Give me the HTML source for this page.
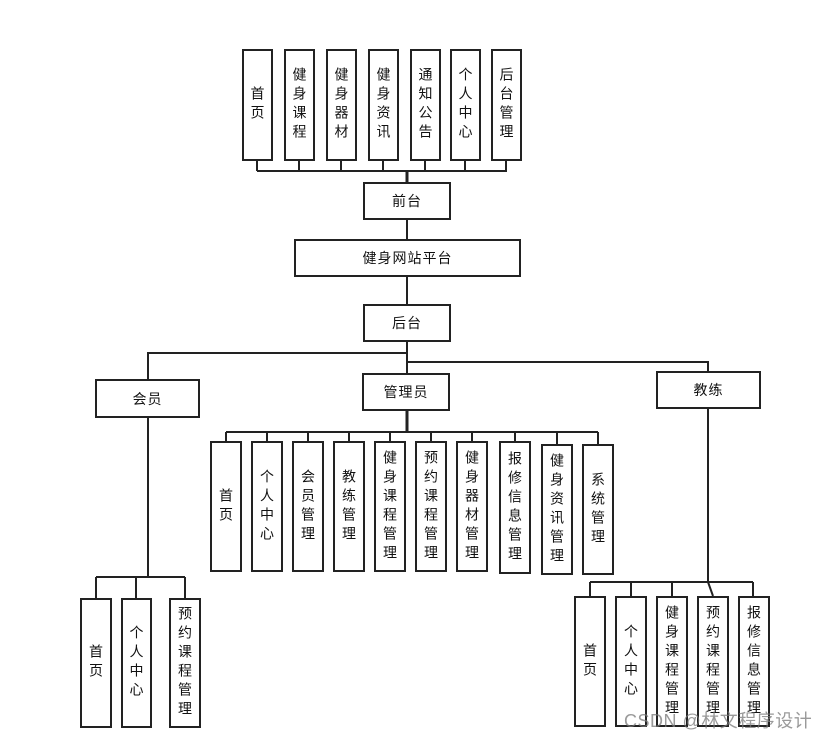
<!DOCTYPE html>
<html><head><meta charset="utf-8"><style>
body{margin:0;width:831px;height:738px;background:#fff;position:relative;overflow:hidden;font-family:"Liberation Sans","Noto Sans CJK SC",sans-serif;}
.b{position:absolute;box-sizing:border-box;border:2px solid #222;background:#fff;display:flex;align-items:center;justify-content:center;font-size:14px;color:#111;}
.v{writing-mode:vertical-rl;text-orientation:upright;letter-spacing:5px;line-height:1;}
.h{letter-spacing:1px;}
svg{position:absolute;left:0;top:0;}
.wm{position:absolute;left:624px;top:707px;font-size:18px;letter-spacing:0.5px;color:rgba(120,120,120,0.75);white-space:nowrap;}
</style></head><body>
<svg width="831" height="738"><g stroke="#222" stroke-width="2" fill="none">
<path d="M257 161V171M299 161V171M341 161V171M383 161V171M425 161V171M465 161V171M506 161V171M257 171H507"/>
<path d="M407 171V182" stroke-width="3"/>
<path d="M407 220V239M407 277V304M407 342V373M407 353H148V379M407 362H708V371"/>
<path d="M407 411V432" stroke-width="3"/>
<path d="M226 432H598M226 432V441M267 432V441M308 432V441M349 432V441M390 432V441M431 432V441M472 432V441M515 432V441M557 432V444M598 432V444"/>
<path d="M148 418V577M96 577H185M96 577V598M136 577V598M185 577V598"/>
<path d="M708 409V582M590 582H753M590 582V596M631 582V596M672 582V596M708 582L713 596M753 582V596"/>
</g></svg>
<div class="b v" style="left:242px;top:49px;width:31px;height:112px">首页</div>
<div class="b v" style="left:284px;top:49px;width:31px;height:112px">健身课程</div>
<div class="b v" style="left:326px;top:49px;width:31px;height:112px">健身器材</div>
<div class="b v" style="left:368px;top:49px;width:31px;height:112px">健身资讯</div>
<div class="b v" style="left:410px;top:49px;width:31px;height:112px">通知公告</div>
<div class="b v" style="left:450px;top:49px;width:31px;height:112px">个人中心</div>
<div class="b v" style="left:491px;top:49px;width:31px;height:112px">后台管理</div>
<div class="b h" style="left:363px;top:182px;width:88px;height:38px">前台</div>
<div class="b h" style="left:294px;top:239px;width:227px;height:38px">健身网站平台</div>
<div class="b h" style="left:363px;top:304px;width:88px;height:38px">后台</div>
<div class="b h" style="left:95px;top:379px;width:105px;height:39px">会员</div>
<div class="b h" style="left:362px;top:373px;width:88px;height:38px">管理员</div>
<div class="b h" style="left:656px;top:371px;width:105px;height:38px">教练</div>
<div class="b v" style="left:210px;top:441px;width:32px;height:131px">首页</div>
<div class="b v" style="left:251px;top:441px;width:32px;height:131px">个人中心</div>
<div class="b v" style="left:292px;top:441px;width:32px;height:131px">会员管理</div>
<div class="b v" style="left:333px;top:441px;width:32px;height:131px">教练管理</div>
<div class="b v" style="left:374px;top:441px;width:32px;height:131px">健身课程管理</div>
<div class="b v" style="left:415px;top:441px;width:32px;height:131px">预约课程管理</div>
<div class="b v" style="left:456px;top:441px;width:32px;height:131px">健身器材管理</div>
<div class="b v" style="left:499px;top:441px;width:32px;height:133px">报修信息管理</div>
<div class="b v" style="left:541px;top:444px;width:32px;height:131px">健身资讯管理</div>
<div class="b v" style="left:582px;top:444px;width:32px;height:131px">系统管理</div>
<div class="b v" style="left:80px;top:598px;width:32px;height:130px">首页</div>
<div class="b v" style="left:121px;top:598px;width:31px;height:130px">个人中心</div>
<div class="b v" style="left:169px;top:598px;width:32px;height:130px">预约课程管理</div>
<div class="b v" style="left:574px;top:596px;width:32px;height:131px">首页</div>
<div class="b v" style="left:615px;top:596px;width:32px;height:131px">个人中心</div>
<div class="b v" style="left:656px;top:596px;width:32px;height:131px">健身课程管理</div>
<div class="b v" style="left:697px;top:596px;width:32px;height:131px">预约课程管理</div>
<div class="b v" style="left:738px;top:596px;width:32px;height:131px">报修信息管理</div>
<div class="wm">CSDN @林文程序设计</div>
</body></html>
